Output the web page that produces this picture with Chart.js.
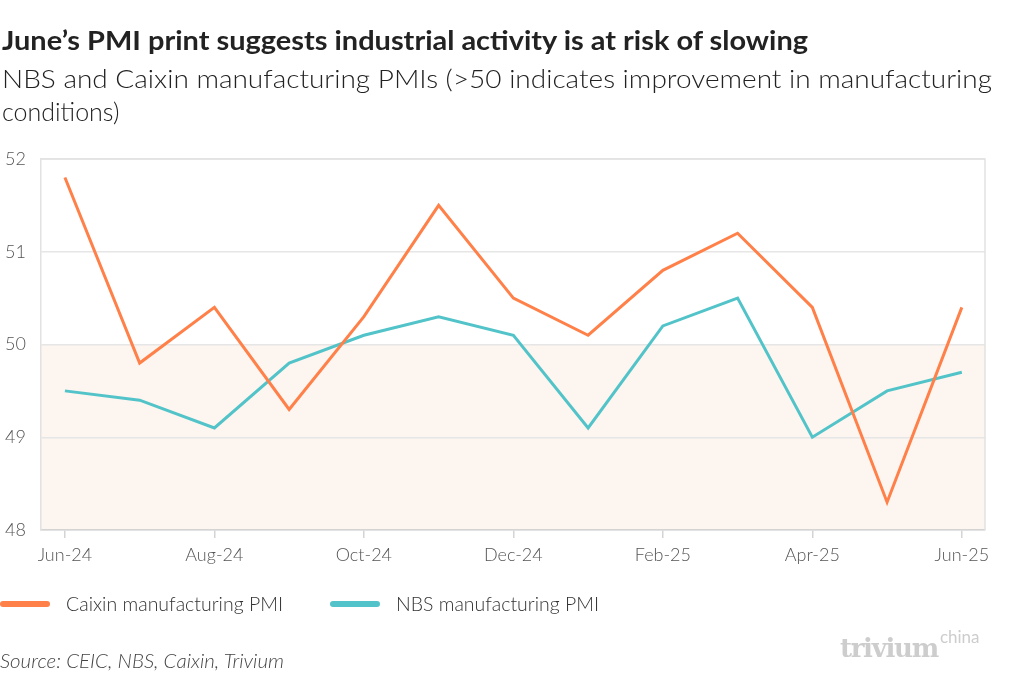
<!DOCTYPE html>
<html>
<head>
<meta charset="utf-8">
<script src="https://cdn.jsdelivr.net/npm/chart.js@4/dist/chart.umd.min.js"></script>
<style>
  html, body { margin: 0; padding: 0; background: #ffffff; width: 1024px; height: 699px; overflow: hidden; }
  body { position: relative; font-family: Lato, "Noto Sans", sans-serif; }
  #wrap { position: absolute; left: 0; top: 0; width: 1024px; height: 699px; }
  .txt { position: absolute; white-space: nowrap; transform-origin: 0 50%; }
  #title { left: 2px; top: 24px; font-size: 26px; font-weight: 700; color: #222; }
  #sub1 { left: 2px; top: 63px; font-size: 25px; font-weight: 300; color: #222; }
  #sub2 { left: 2px; top: 96px; font-size: 25px; font-weight: 300; color: #222; }
  .litem { position: absolute; top: 591px; height: 26px; line-height: 26px; font-size: 19px; font-weight: 300; color: #333; white-space: nowrap; transform-origin: 0 50%; }
  .lline { position: absolute; top: 601px; height: 6px; border-radius: 3px; width: 50px; }
  #source { left: 0; top: 649px; font-size: 19px; font-style: italic; font-weight: 300; color: #444; }
  #logo { position: absolute; left: 840px; top: 633px; color: #cdcdcd; white-space: nowrap; }
  #logo .t { font-family: "DejaVu Serif", serif; font-weight: 700; font-size: 26px; letter-spacing: -1.3px; }
  #logo .c { font-family: Lato, sans-serif; font-size: 17px; position: relative; top: -14px; margin-left: 2px; }
</style>
</head>
<body>
<div id="wrap"><canvas id="chart" width="1024" height="699"></canvas></div>
<div class="txt" id="title">June’s PMI print suggests industrial activity is at risk of slowing</div>
<div class="txt" id="sub1">NBS and Caixin manufacturing PMIs (&gt;50 indicates improvement in manufacturing</div>
<div class="txt" id="sub2">conditions)</div>
<div id="legend"></div>
<div class="txt" id="source">Source: CEIC, NBS, Caixin, Trivium</div>
<div id="logo"><span class="t">trivium</span><span class="c">china</span></div>
<script>
// ---- Data ----
const months = ["Jun-24","Jul-24","Aug-24","Sep-24","Oct-24","Nov-24","Dec-24","Jan-25","Feb-25","Mar-25","Apr-25","May-25","Jun-25"];
const tickMonths = [0, 2, 4, 6, 8, 10, 12];
const caixinPMI = [51.8, 49.8, 50.4, 49.3, 50.3, 51.5, 50.5, 50.1, 50.8, 51.2, 50.4, 48.3, 50.4];
const nbsPMI    = [49.5, 49.4, 49.1, 49.8, 50.1, 50.3, 50.1, 49.1, 50.2, 50.5, 49.0, 49.5, 49.7];
const yTicks = [48, 49, 50, 51, 52];
const seriesNames = ["Caixin manufacturing PMI", "NBS manufacturing PMI"];
const seriesColors = ["#ff8048", "#52c4c9"];
const threshold = 50;

// ---- fit helper for text widths ----
function fitEl(el, w) {
  const r = el.getBoundingClientRect().width;
  if (r > 0) el.style.transform = 'scaleX(' + (w / r) + ')';
}
fitEl(document.getElementById('title'), 806);
fitEl(document.getElementById('sub1'), 990);
fitEl(document.getElementById('source'), 284);

// ---- legend ----
const legend = document.getElementById('legend');
const legendPos = [[0, 66, 217], [330, 396, 203]];
seriesNames.forEach((n, i) => {
  const ln = document.createElement('div');
  ln.className = 'lline';
  ln.style.left = legendPos[i][0] + 'px';
  ln.style.background = seriesColors[i];
  legend.appendChild(ln);
  const t = document.createElement('div');
  t.className = 'litem';
  t.style.left = legendPos[i][1] + 'px';
  t.textContent = n;
  legend.appendChild(t);
  fitEl(t, legendPos[i][2]);
});

const bandPlugin = {
  id: 'band',
  beforeDraw(chart) {
    const { ctx, chartArea: a, scales } = chart;
    const y50 = scales.y.getPixelForValue(threshold);
    ctx.save();
    ctx.fillStyle = '#fdf5ef';
    ctx.fillRect(a.left, y50, a.right - a.left, a.bottom - y50);
    ctx.restore();
  },
  beforeDatasetsDraw(chart) {
    const { ctx, chartArea: a } = chart;
    ctx.save();
    ctx.strokeStyle = '#e2e2e2';
    ctx.lineWidth = 1.5;
    ctx.beginPath();
    ctx.moveTo(a.left, a.top);
    ctx.lineTo(a.right, a.top);
    ctx.lineTo(a.right, a.bottom);
    ctx.stroke();
    ctx.restore();
  }
};

const toPts = arr => arr.map((v, i) => ({ x: i, y: v }));

new Chart(document.getElementById('chart'), {
  type: 'line',
  data: {
    datasets: [
      { label: seriesNames[0], data: toPts(caixinPMI), borderColor: seriesColors[0], borderWidth: 3, pointRadius: 0, tension: 0, fill: false },
      { label: seriesNames[1], data: toPts(nbsPMI), borderColor: seriesColors[1], borderWidth: 3, pointRadius: 0, tension: 0, fill: false }
    ]
  },
  options: {
    responsive: false,
    animation: false,
    devicePixelRatio: 1,
    layout: { padding: { left: 0, top: 159, right: 39, bottom: 129 } },
    plugins: { legend: { display: false }, tooltip: { enabled: false }, title: { display: false } },
    scales: {
      x: {
        type: 'linear',
        min: -0.32,
        max: 12.31,
        afterBuildTicks: s => { s.ticks = tickMonths.map(v => ({ value: v })); },
        afterFit: s => { s.height = 40; },
        ticks: {
          autoSkip: false, maxRotation: 0, padding: 6,
          color: '#555', font: { family: 'Lato', size: 18, weight: 300 },
          callback: v => months[v]
        },
        grid: { drawOnChartArea: false, drawTicks: true, tickLength: 8, color: '#d4d4d4', lineWidth: 1.5 },
        border: { display: true, color: '#d4d4d4', width: 1.5 }
      },
      y: {
        min: 48, max: 52,
        afterBuildTicks: s => { s.ticks = yTicks.map(v => ({ value: v })); },
        afterFit: s => { s.width = 41; },
        ticks: { padding: 15, color: '#555', font: { family: 'Lato', size: 18, weight: 300 } },
        grid: { color: '#e6e6e6', lineWidth: 1.5, drawTicks: false },
        border: { display: true, color: '#e2e2e2', width: 1.5 }
      }
    }
  },
  plugins: [bandPlugin]
});
</script>
</body>
</html>
